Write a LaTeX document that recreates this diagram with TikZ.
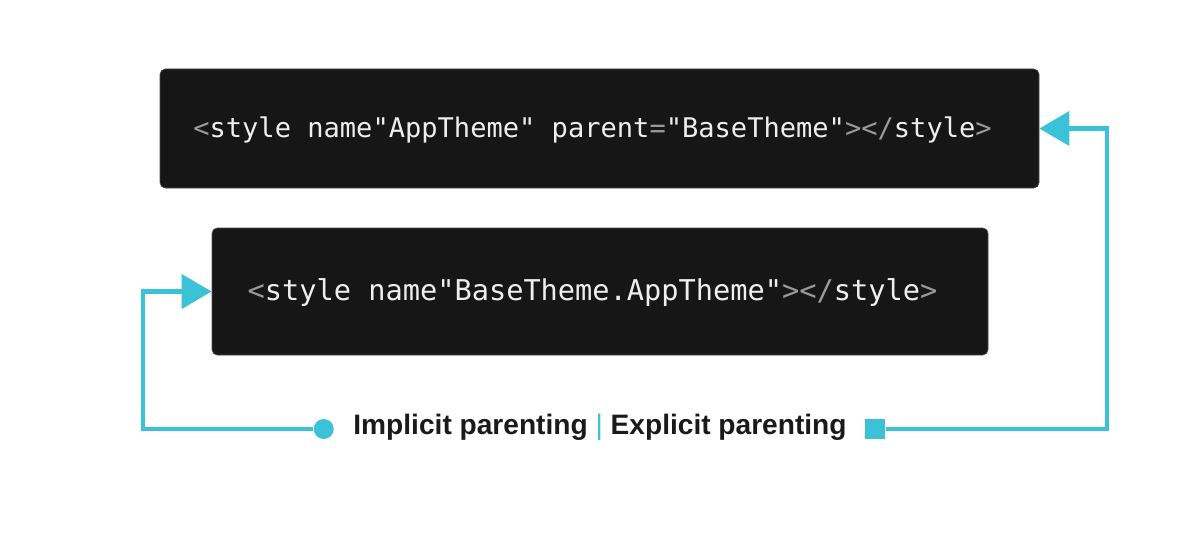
\documentclass[tikz,border=0pt]{standalone}
\usepackage{xcolor}
\usepackage{fontspec}
\usepackage{tikz}
\usetikzlibrary{shapes, positioning, arrows.meta}
\newfontfamily\codefont{DejaVu Sans Mono}
\newfontfamily\labelfont{Liberation Sans}
\definecolor{codebg}{HTML}{161616}
\definecolor{codeedge}{HTML}{4A4A4A}
\definecolor{codetext}{HTML}{EEEEEE}
\definecolor{codegrey}{HTML}{9A9A9A}
\definecolor{linkcyan}{HTML}{3CC2D7}
\definecolor{labelink}{HTML}{1A1A1A}
\newcommand{\gr}[1]{{\color{codegrey}#1}}
\tikzset{
  codebox/.style={draw=codeedge, line width=0.4pt, fill=codebg, rounded corners=3pt, inner sep=0pt},
  codetxt/.style={text=codetext, inner sep=0pt},
  link/.style={draw=linkcyan, line width=2.3pt, -{Triangle[length=0.6cm, width=0.68cm]}}
}
\begin{document}
\begin{tikzpicture}
			\useasboundingbox (0,0) rectangle (24,10.7);
			% Nodes
			\node (app) [codebox, minimum width=17.58cm, minimum height=2.38cm] at (11.99,8.13) {};
			\node (apptext) [codetxt, font=\codefont\fontsize{15.4}{19}\selectfont, xshift=-0.14cm, yshift=-0.03cm] at (app)
			  {\gr{<}style name"AppTheme" parent\gr{=}"BaseTheme"\gr{></}style\gr{>}};
			\node (base) [codebox, minimum width=15.52cm, minimum height=2.54cm] at (12.0,4.87) {};
			\node (basetext) [codetxt, font=\codefont\fontsize{16.3}{20}\selectfont, xshift=-0.15cm, yshift=-0.03cm] at (base)
			  {\gr{<}style name"BaseTheme.AppTheme"\gr{></}style\gr{>}};
			\node (lab) [inner sep=0pt, text=labelink, font=\labelfont\bfseries\fontsize{16}{19}\selectfont] at (12.0,2.15)
			  {Implicit parenting {\color{linkcyan}\mdseries|} Explicit parenting};
			\node (dot) [circle, fill=linkcyan, minimum size=0.4cm, inner sep=0pt, left=0.38cm of lab, yshift=-0.03cm] {};
			\node (sq) [rectangle, fill=linkcyan, minimum size=0.4cm, inner sep=0pt, right=0.36cm of lab, yshift=-0.03cm] {};
			\coordinate (lturn) at (2.86,2.12);
			\coordinate (rturn) at (22.14,2.12);

			% Edges
			\draw[link] (dot) -- (lturn) |- (base.west);
			\draw[link] (sq) -- (rturn) |- (app.east);

		\end{tikzpicture}
\end{document}
